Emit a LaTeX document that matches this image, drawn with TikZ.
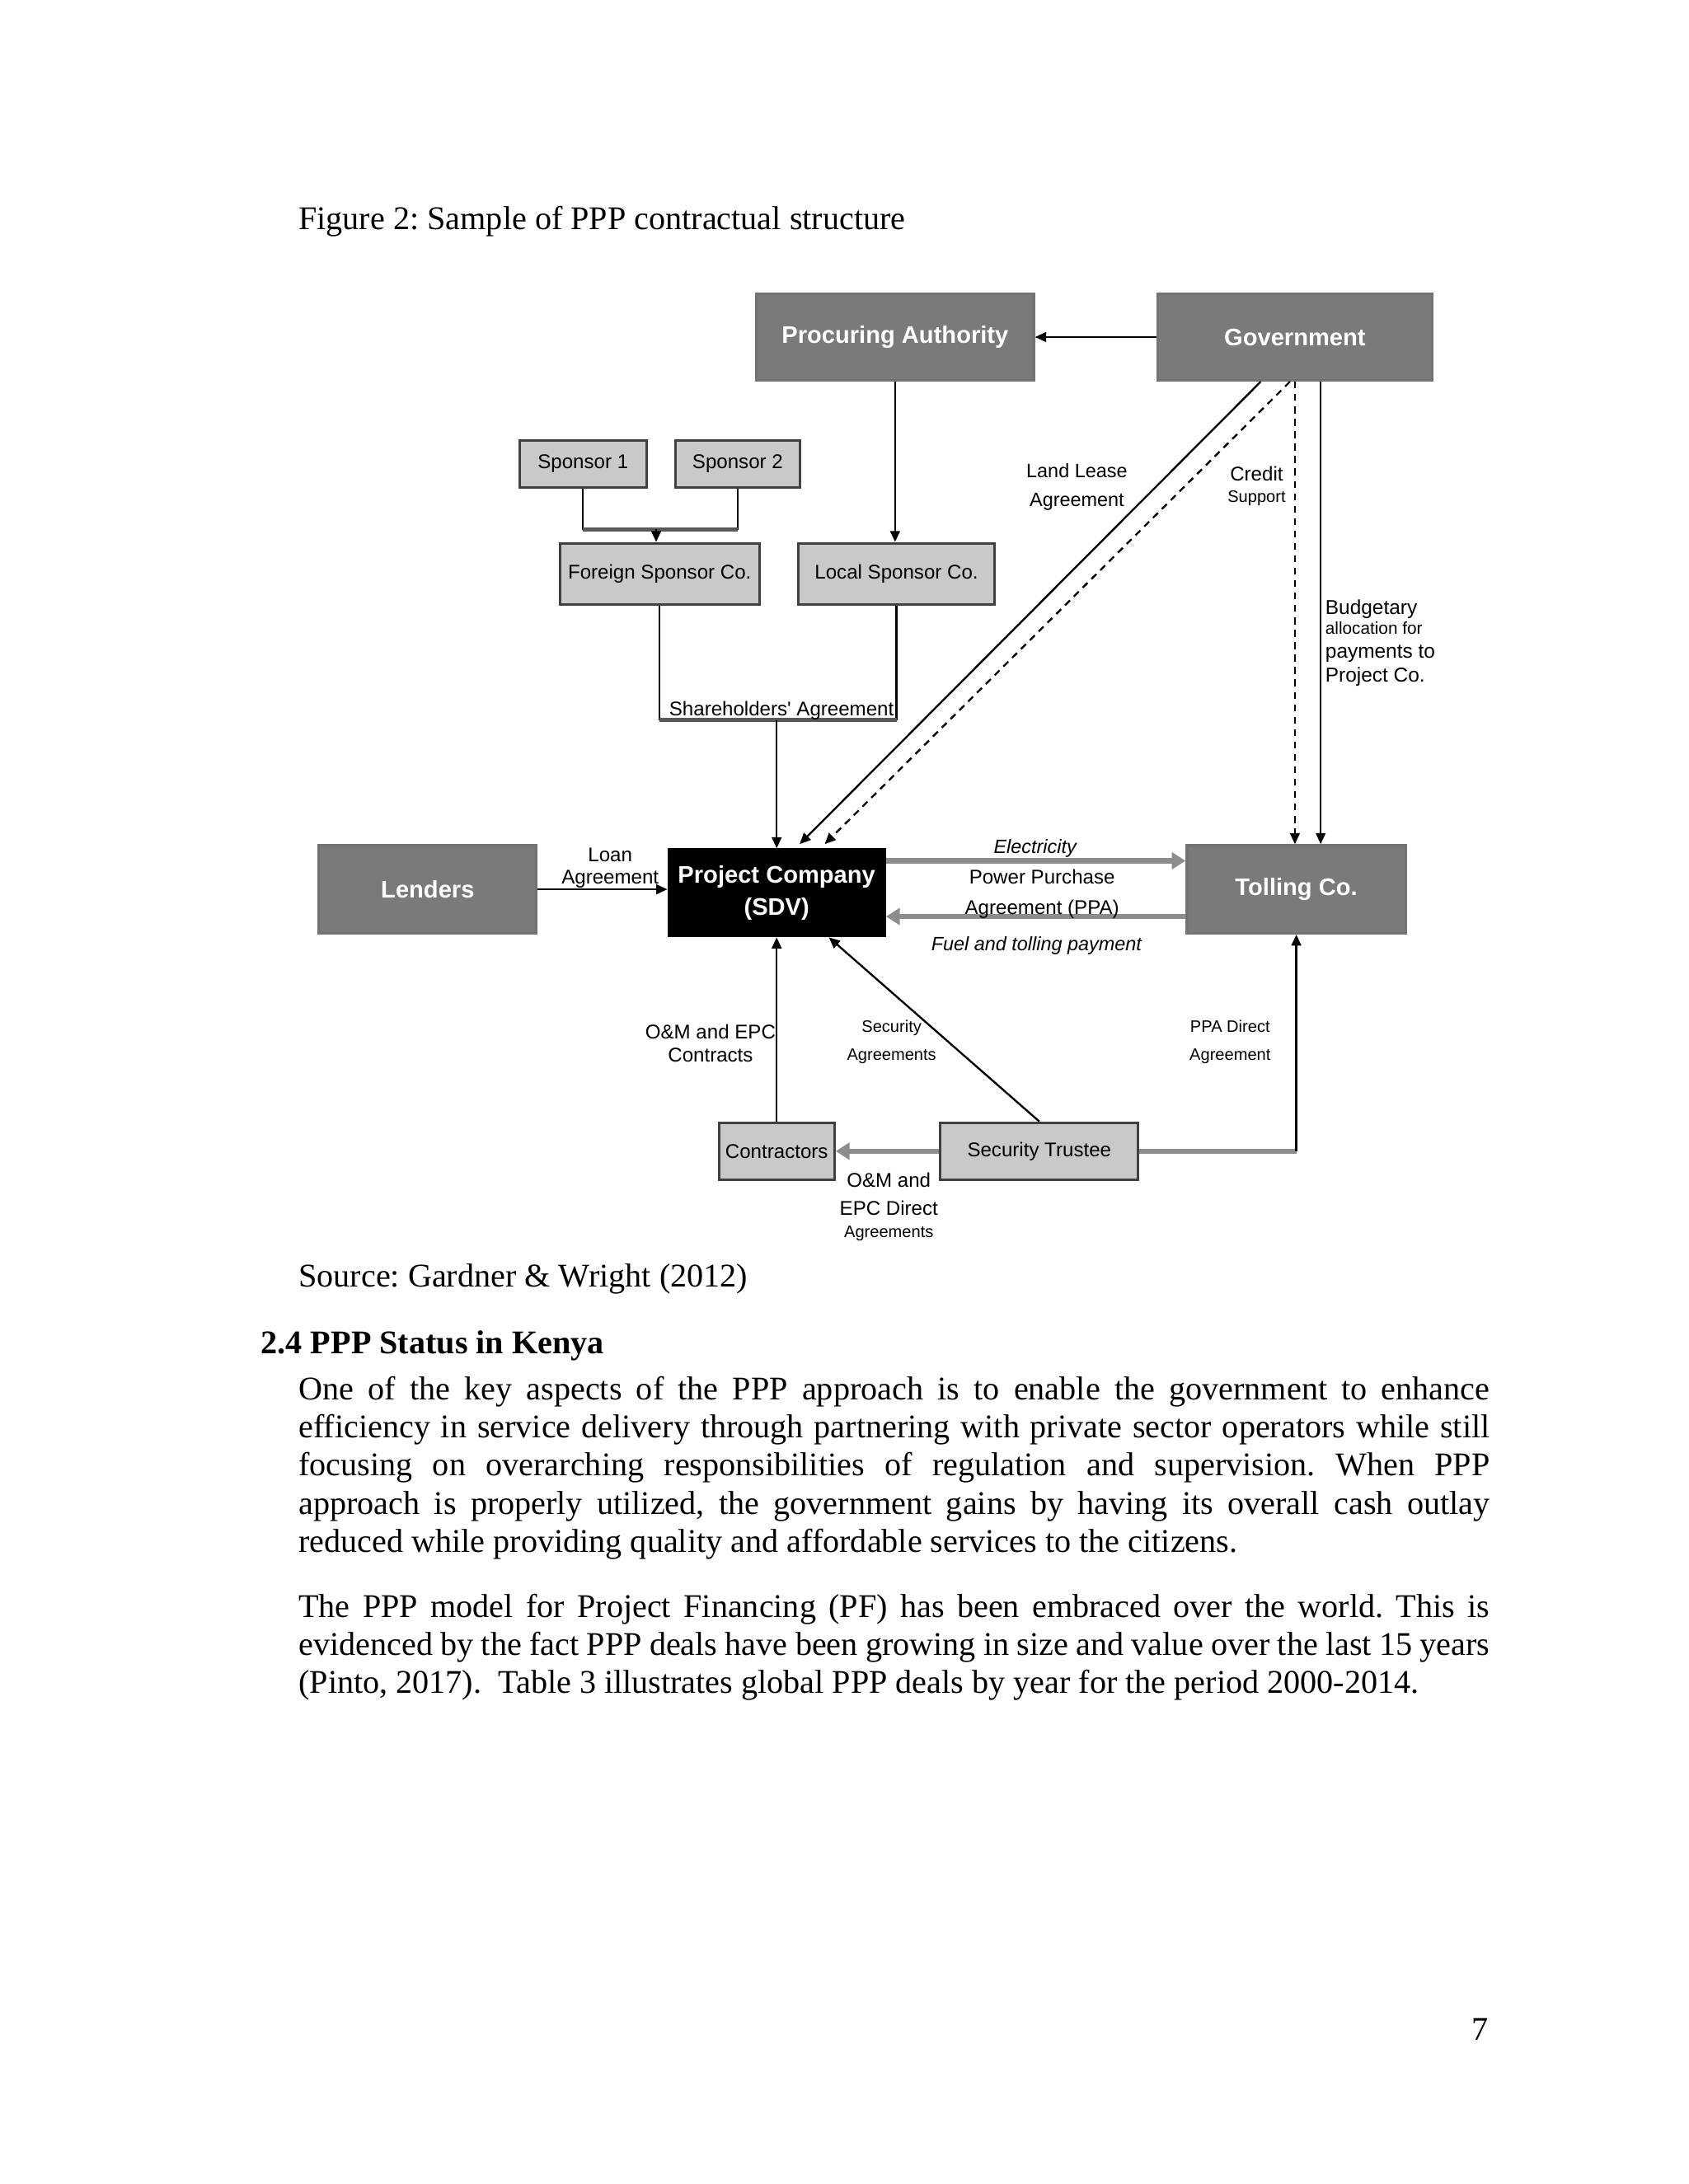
\documentclass[tikz,border=0pt]{standalone}
\usepackage{fontspec}
\setmainfont{Liberation Serif}
\newfontfamily\diagfont{Liberation Sans}
\usetikzlibrary{arrows.meta,calc}
\frenchspacing

\definecolor{boxdark}{gray}{0.48}
\definecolor{boxlight}{gray}{0.79}
\definecolor{linkgrey}{gray}{0.55}

\tikzset{
  party/.style={draw=black!55, line width=1pt, fill=boxdark, text=white,
    font=\diagfont\fontsize{8.7}{10}\selectfont\bfseries, inner sep=0pt},
  member/.style={draw=black!75, line width=0.9pt, fill=boxlight,
    font=\diagfont\fontsize{7.2}{8.5}\selectfont, inner sep=0pt},
  tag/.style={font=\diagfont\fontsize{7.2}{8.3}\selectfont, inner sep=0pt, align=center},
  small/.style={font=\diagfont\fontsize{6}{10}\selectfont, inner sep=0pt, align=center},
  link/.style={line width=0.7pt},
  arr/.style={line width=0.7pt, -{Triangle[length=4pt,width=3.5pt]}},
  fat/.style={draw=linkgrey, line width=2pt, -{Triangle[length=5pt,width=6pt]}},
  body/.style={font=\fontsize{12}{13.8}\selectfont, inner sep=0pt, anchor=base west}
}

\begin{document}
\begin{tikzpicture}[x=0.505pt, y=-0.505pt]
\useasboundingbox (0,0) rectangle (1212,1568);

% caption
\node[body] (caption) at (214,165) {Figure 2: Sample of PPP contractual structure};

% boxes
\node[party, minimum width=100.5pt, minimum height=31.3pt] (proc) at (642.5,242) {Procuring Authority};
\node[party, minimum width=99.5pt, minimum height=31.3pt] (gov) at (929.5,242) {Government};
\node[member, minimum width=46pt, minimum height=17.2pt] (sp1) at (418.5,333) {Sponsor 1};
\node[member, minimum width=45pt, minimum height=17.2pt] (sp2) at (529.5,333) {Sponsor 2};
\node[member, minimum width=72.2pt, minimum height=22.2pt] (fsc) at (473.5,412) {Foreign Sponsor Co.};
\node[member, minimum width=71.2pt, minimum height=22.2pt] (lsc) at (643.5,412) {Local Sponsor Co.};
\node[party, fill=black, draw=black, minimum width=78.3pt, minimum height=31.3pt, align=center] (pc) at (557.5,641) {Project Company\\[1.6pt](SDV)};
\node[party, minimum width=78.8pt, minimum height=31.8pt] (lend) at (307,638.5) {Lenders};
\node[party, minimum width=79.3pt, minimum height=31.8pt] (toll) at (930.5,638.5) {Tolling Co.};
\node[member, minimum width=41.9pt, minimum height=20.7pt] (contr) at (557.5,826.5) {Contractors};
\node[member, minimum width=71.7pt, minimum height=20.7pt] (trustee) at (746,826.5) {Security Trustee};

% helper points
\coordinate (join) at (471,380);
\coordinate (shl) at (473.5,517);
\coordinate (shr) at (643.5,517);
\coordinate (sha) at (557.5,517);
\coordinate (elecrow) at (0,618);
\coordinate (fuelrow) at (0,658);
\coordinate (budgx) at (948,0);

% government side
\draw[arr] (gov) -- (proc);
\draw[arr] (proc) -- (proc |- lsc.north);
\draw[arr] ($(gov.south)+(-24.5,0)$) -- ($(pc.north)+(16.5,-3)$);
\draw[arr, dashed, dash pattern=on 2.5pt off 2pt] ($(gov.south)+(-3.5,0)$) -- ($(pc.north)+(34.5,-3)$);
\draw[arr, dashed, dash pattern=on 2.5pt off 2pt] (gov.south) -- (gov.south |- toll.north);
\draw[arr] (gov.south -| budgx) -- (toll.north -| budgx);

% sponsors
\draw[link] (sp1.south) |- (join);
\draw[link] (sp2.south) |- (join);
\draw[line width=1.4pt, draw=black!65] (sp1.south |- join) -- (sp2.south |- join);
\draw[arr] (join) -- (join |- fsc.north);
\draw[link] (fsc.south) -- (shl);
\draw[link] (lsc.south) -- (shr);
\draw[line width=1.4pt, draw=black!65] (shl) -- (shr);
\draw[arr] (sha) -- (pc.north);

% project company links
\draw[arr] (lend) -- (lend -| pc.west);
\draw[fat] (pc.east |- elecrow) -- (toll.west |- elecrow);
\draw[fat] (toll.west |- fuelrow) -- (pc.east |- fuelrow);
\draw[arr] (contr.north) -- (pc.south);
\draw[arr] (trustee.north) -- ($(pc.south)+(37.5,0)$);
\draw[fat] (trustee.west) -- (contr.east);
\draw[fat, -] (trustee.east) -- (trustee.east -| toll.south) coordinate (ppac);
\draw[arr] (ppac) -- (toll.south);

% labels
\node[tag, font=\diagfont\fontsize{7}{10.6}\selectfont] at (773,349.5) {Land Lease\\Agreement};
\node[tag] at (902,349) {Credit\\[-0.5pt]{\fontsize{6}{7}\selectfont Support}};
\node[tag, align=left, anchor=north west, font=\diagfont\fontsize{7.3}{8.6}\selectfont] at (951,430) {Budgetary\\[-1.2pt]{\fontsize{6.2}{7}\selectfont allocation for}\\payments to\\Project Co.};
\node[tag, anchor=base] at (561,514) {Shareholders' Agreement};
\node[tag, font=\diagfont\fontsize{7.2}{8}\selectfont] at (438,623) {Loan\\Agreement};
\node[tag, font=\diagfont\itshape\fontsize{7}{8}\selectfont] at (743,609) {Electricity};
\node[tag, font=\diagfont\fontsize{7.2}{11}\selectfont] at (748,642) {Power Purchase\\Agreement (PPA)};
\node[tag, font=\diagfont\itshape\fontsize{7}{8}\selectfont] at (744,679) {Fuel and tolling payment};
\node[tag] at (510,749) {O\&M and EPC\\Contracts};
\node[small] at (640,748) {Security\\Agreements};
\node[small] at (883,748) {PPA Direct\\Agreement};
\node[tag, font=\diagfont\fontsize{7.2}{10}\selectfont] at (638,866.5) {O\&M and\\EPC Direct\\[-2pt]{\fontsize{6}{7}\selectfont Agreements}};

% text below
\node[body] (source) at (214,924) {Source: Gardner \& Wright (2012)};
\node[body, font=\fontsize{12}{13.8}\selectfont\bfseries] (head) at (187,972) {2.4 PPP Status in Kenya};
\node[body, text width=431.8pt, align=justify] (para1) at (214,1005) {One of the key aspects of the PPP approach is to enable the government to enhance\linebreak efficiency in service delivery through partnering with private sector operators while still\linebreak focusing on overarching responsibilities of regulation and supervision. When PPP\linebreak approach is properly utilized, the government gains by having its overall cash outlay\linebreak reduced while providing quality and affordable services to the citizens.};
\node[body, text width=431.8pt, align=justify] (para2) at (214,1161) {The PPP model for Project Financing (PF) has been embraced over the world. This is\linebreak evidenced by the fact PPP deals have been growing in size and value over the last 15 years\linebreak (Pinto, 2017).\ \ Table 3 illustrates global PPP deals by year for the period 2000-2014.};
\node[body, anchor=base east] (pageno) at (1069,1465) {7};
\end{tikzpicture}
\end{document}
